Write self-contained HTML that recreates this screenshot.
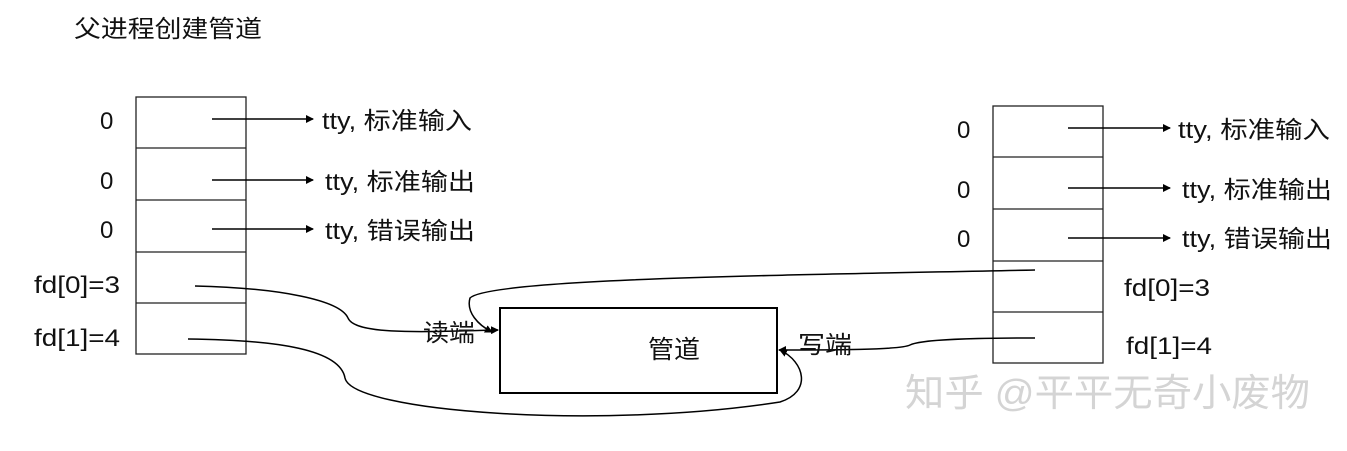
<!DOCTYPE html>
<html><head><meta charset="utf-8"><style>
body{margin:0;background:#fff;}
svg text{font-family:"Liberation Sans","Noto Sans CJK SC",sans-serif;fill:#111;}
</style></head><body>
<svg width="1347" height="446" viewBox="0 0 1347 446" xmlns="http://www.w3.org/2000/svg">
<defs><marker id="a" markerWidth="8" markerHeight="8" refX="7" refY="4" orient="auto" markerUnits="userSpaceOnUse"><path d="M0,0 L8,4 L0,8 z" fill="#000"/></marker></defs>
<text x="74" y="37" font-size="24" textLength="188" lengthAdjust="spacingAndGlyphs">父进程创建管道</text>
<g fill="none" stroke="#222" stroke-width="1.3">
<rect x="136" y="97" width="110" height="257"/>
<line x1="136" y1="148" x2="246" y2="148"/><line x1="136" y1="200" x2="246" y2="200"/><line x1="136" y1="252" x2="246" y2="252"/><line x1="136" y1="303" x2="246" y2="303"/>
<rect x="993" y="106" width="110" height="257"/>
<line x1="993" y1="157" x2="1103" y2="157"/><line x1="993" y1="209" x2="1103" y2="209"/><line x1="993" y1="261" x2="1103" y2="261"/><line x1="993" y1="312" x2="1103" y2="312"/>
</g>
<rect x="500" y="308" width="277" height="85" fill="none" stroke="#000" stroke-width="2"/>
<text x="648" y="358" font-size="25" textLength="52" lengthAdjust="spacingAndGlyphs">管道</text>
<g stroke="#000" stroke-width="1.5" fill="none" marker-end="url(#a)">
<line x1="212" y1="119" x2="313" y2="119"/><line x1="212" y1="180" x2="313" y2="180"/><line x1="212" y1="229" x2="313" y2="229"/>
<line x1="1068" y1="128" x2="1170" y2="128"/><line x1="1068" y1="188" x2="1170" y2="188"/><line x1="1068" y1="238" x2="1170" y2="238"/>
<path d="M195,286 C280,288 340,300 348,318 C355,335 420,332 498,330"/>
<path d="M188,339 C280,340 340,350 345,378 C352,412 600,430 780,402 C812,392 805,362 780,350"/>
<path d="M1035,270 C800,275 490,278 470,298 C466,312 478,325 492,332"/>
<path d="M1035,338 C960,338 920,340 910,345 C900,350 830,350 779,350"/>
</g>
<g font-size="24" lengthAdjust="spacingAndGlyphs">
<text x="100" y="129">0</text><text x="100" y="189">0</text><text x="100" y="238">0</text>
<text x="34" y="293" textLength="86" lengthAdjust="spacingAndGlyphs">fd[0]=3</text><text x="34" y="346" textLength="86" lengthAdjust="spacingAndGlyphs">fd[1]=4</text>
<text x="322" y="129" textLength="150" lengthAdjust="spacingAndGlyphs">tty, 标准输入</text><text x="325" y="190" textLength="150" lengthAdjust="spacingAndGlyphs">tty, 标准输出</text><text x="325" y="239" textLength="150" lengthAdjust="spacingAndGlyphs">tty, 错误输出</text>
<text x="957" y="138">0</text><text x="957" y="198">0</text><text x="957" y="247">0</text>
<text x="1124" y="296" textLength="86" lengthAdjust="spacingAndGlyphs">fd[0]=3</text><text x="1126" y="354" textLength="86" lengthAdjust="spacingAndGlyphs">fd[1]=4</text>
<text x="1178" y="138" textLength="152" lengthAdjust="spacingAndGlyphs">tty, 标准输入</text><text x="1182" y="198" textLength="150" lengthAdjust="spacingAndGlyphs">tty, 标准输出</text><text x="1182" y="247" textLength="150" lengthAdjust="spacingAndGlyphs">tty, 错误输出</text>
<text x="423" y="341" textLength="52" lengthAdjust="spacingAndGlyphs">读端</text><text x="798" y="353" textLength="54" lengthAdjust="spacingAndGlyphs">写端</text>
</g>
<text x="905" y="406" font-size="38" textLength="405" lengthAdjust="spacingAndGlyphs" style="fill:#d4d4d4">知乎 @平平无奇小废物</text>
</svg>
</body></html>
